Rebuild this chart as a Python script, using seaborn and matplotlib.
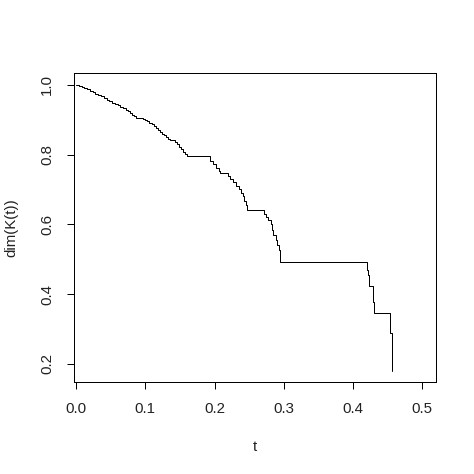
import matplotlib
matplotlib.use("Agg")
import matplotlib.pyplot as plt
import seaborn as sns
import pandas as pd

# ---- Data ----
t_vals = [
    0.000, 0.004, 0.008, 0.012, 0.016, 0.020, 0.024, 0.028, 0.032, 0.036,
    0.040, 0.044, 0.048, 0.052, 0.056, 0.060, 0.064, 0.068, 0.072, 0.075,
    0.078, 0.081, 0.084, 0.087, 0.097, 0.100, 0.103, 0.106, 0.109, 0.112,
    0.115, 0.118, 0.121, 0.124, 0.127, 0.130, 0.133, 0.136, 0.143, 0.146,
    0.149, 0.152, 0.155, 0.158, 0.160, 0.194, 0.198, 0.202, 0.206, 0.208,
    0.219, 0.223, 0.227, 0.231, 0.235, 0.238, 0.241, 0.243, 0.245, 0.247,
    0.271, 0.274, 0.278, 0.281, 0.283, 0.285, 0.289, 0.291, 0.293, 0.295,
    0.421, 0.422, 0.423, 0.429, 0.431, 0.454, 0.457,
]
dim_vals = [
    1.000, 0.997, 0.994, 0.991, 0.987, 0.983, 0.979, 0.975, 0.971, 0.967,
    0.962, 0.958, 0.953, 0.949, 0.945, 0.941, 0.937, 0.933, 0.928, 0.924,
    0.919, 0.914, 0.910, 0.906, 0.902, 0.899, 0.895, 0.891, 0.887, 0.882,
    0.877, 0.871, 0.866, 0.860, 0.855, 0.851, 0.846, 0.842, 0.835, 0.829,
    0.823, 0.816, 0.808, 0.801, 0.795, 0.782, 0.772, 0.763, 0.752, 0.748,
    0.738, 0.730, 0.721, 0.710, 0.700, 0.690, 0.680, 0.668, 0.655, 0.642,
    0.630, 0.621, 0.612, 0.600, 0.585, 0.570, 0.556, 0.540, 0.527, 0.493,
    0.470, 0.455, 0.424, 0.378, 0.346, 0.289, 0.180,
]
x_ticks = [0.0, 0.1, 0.2, 0.3, 0.4, 0.5]
y_ticks = [0.2, 0.4, 0.6, 0.8, 1.0]

df = pd.DataFrame({"t": t_vals, "dim": dim_vals})

# ---- Style: R base-graphics look ----
sns.set_theme(style="white")
plt.rcParams["font.family"] = ["Liberation Sans", "DejaVu Sans"]

DPI = 72
fig = plt.figure(figsize=(474 / DPI, 474 / DPI), dpi=DPI)
ax = fig.add_axes([74 / 474, 1 - 382 / 474, (436 - 74) / 474, (382 - 73) / 474])

sns.lineplot(data=df, x="t", y="dim", ax=ax, color="black", linewidth=1.0,
             drawstyle="steps-post", estimator=None, sort=False)

ax.set_xlim(-0.003, 0.520)
ax.set_ylim(0.148, 1.034)
ax.set_xticks(x_ticks)
ax.set_xticklabels([f"{v:.1f}" for v in x_ticks])
ax.set_yticks(y_ticks)
ax.set_yticklabels([f"{v:.1f}" for v in y_ticks], rotation=90, va="center")

for sp in ax.spines.values():
    sp.set_visible(True)
    sp.set_color("black")
    sp.set_linewidth(1.0)

ax.tick_params(axis="both", which="major", direction="out", length=7, width=1,
               color="black", labelsize=15, labelcolor="#222222", pad=13,
               bottom=True, left=True, top=False, right=False)

ax.set_xlabel("t", fontsize=15, color="#222222", labelpad=24)
ax.set_ylabel("dim(K(t))", fontsize=15, color="#222222", labelpad=22)

fig.savefig("out.png", dpi=DPI, facecolor="white")
